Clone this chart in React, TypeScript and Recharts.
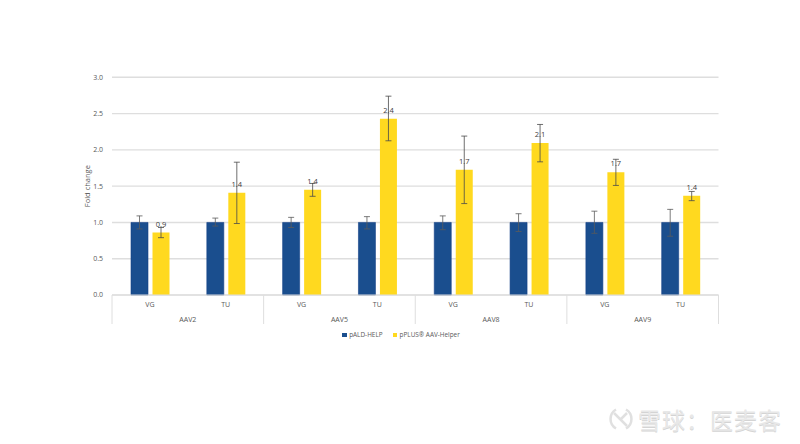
import React from "react";
import { BarChart, Bar, XAxis, YAxis, CartesianGrid, ErrorBar, LabelList, Legend } from "recharts";

const measures = ["VG", "TU", "VG", "TU", "VG", "TU", "VG", "TU"];
const groups = ["AAV2", "AAV2", "AAV5", "AAV5", "AAV8", "AAV8", "AAV9", "AAV9"];
const aldValues = [1, 1, 1, 1, 1, 1, 1, 1];
const aldErrors = [
  [0.09, 0.09], [0.05, 0.06], [0.07, 0.07], [0.09, 0.08],
  [0.1, 0.09], [0.125, 0.12], [0.15, 0.155], [0.19, 0.18],
];
const plusValues = [0.86, 1.41, 1.45, 2.43, 1.725, 2.095, 1.69, 1.367];
const plusErrors = [
  [0.07, 0.07], [0.425, 0.42], [0.09, 0.087], [0.305, 0.31],
  [0.465, 0.465], [0.26, 0.255], [0.18, 0.18], [0.067, 0.06],
];
const plusLabels = ["0.9", "1.4", "1.4", "2.4", "1.7", "2.1", "1.7", "1.4"];
const yTicks = [0, 0.5, 1, 1.5, 2, 2.5, 3];

const table = measures.map((m, i) => ({
  measure: m,
  group: groups[i],
  ald: aldValues[i],
  aldErr: aldErrors[i],
  plus: plusValues[i],
  plusErr: plusErrors[i],
  label: plusLabels[i],
}));

const FONT = "'Open Sans', sans-serif";
const TEXT = "#595959";
const LINE = "#dedede";
const WIDTH = 800;
const HEIGHT = 444;
const LEFT = 112;
const RIGHT = 81.5;
const BAND = (WIDTH - LEFT - RIGHT) / measures.length;

function GroupTick(props: any) {
  const { x, y, index, payload } = props;
  const top = y - 23;
  const bottom = y + 6;
  if (index % 2 === 0) {
    const lx = x - BAND / 2;
    return <line x1={lx} x2={lx} y1={top} y2={bottom} stroke={LINE} strokeWidth={1} />;
  }
  const rx = x + BAND / 2;
  return (
    <g>
      {index === measures.length - 1 && <line x1={rx} x2={rx} y1={top} y2={bottom} stroke={LINE} strokeWidth={1} />}
      <text x={x - BAND / 2} y={y + 3.5} textAnchor="middle" fontFamily={FONT} fontSize={7} fill={TEXT}>
        {payload.value}
      </text>
    </g>
  );
}

function LegendBox(props: any) {
  const items = props.payload || [];
  return (
    <div style={{ display: "flex", justifyContent: "center", gap: 10, fontFamily: FONT, fontSize: 6.4, color: TEXT, lineHeight: "10px", paddingLeft: 2 }}>
      {items.map((it: any) => (
        <span key={it.value} style={{ display: "inline-flex", alignItems: "center" }}>
          <span style={{ width: 4.5, height: 4.5, background: it.color, marginRight: 2.5, display: "inline-block" }} />
          {it.value}
        </span>
      ))}
    </div>
  );
}

export default function App() {
  return (
    <div style={{ position: "absolute", left: 0, top: 0, width: WIDTH, height: HEIGHT, background: "#fff", overflow: "hidden" }}>
      <BarChart
        width={WIDTH}
        height={HEIGHT}
        data={table}
        margin={{ top: 77.3, right: RIGHT, left: 80, bottom: 85 }}
        barSize={17}
        barGap={4.5}
      >
        <CartesianGrid vertical={false} stroke={LINE} strokeWidth={1.4} />
        <XAxis
          xAxisId="a"
          dataKey="measure"
          interval={0}
          height={15}
          axisLine={{ stroke: LINE }}
          tickLine={false}
          tick={{ fontFamily: FONT, fontSize: 7, fill: TEXT }}
          tickMargin={1}
        />
        <XAxis
          xAxisId="b"
          dataKey="group"
          interval={0}
          height={15}
          axisLine={false}
          tickLine={false}
          tick={<GroupTick />}
        />
        <YAxis
          width={32}
          domain={[0, 3]}
          ticks={yTicks}
          interval={0}
          axisLine={false}
          tickLine={false}
          tickFormatter={(v: number) => v.toFixed(1)}
          tick={{ fontFamily: FONT, fontSize: 7, fill: TEXT }}
          tickMargin={3}
          label={{ value: "Fold change", angle: -90, position: "insideLeft", offset: 7, style: { fontFamily: FONT, fontSize: 7.5, fill: TEXT, textAnchor: "middle" } }}
        />
        <Legend content={<LegendBox />} height={34} verticalAlign="bottom" wrapperStyle={{ left: 0, width: WIDTH, top: 330 }} />
        <Bar xAxisId="a" dataKey="ald" name="pALD-HELP" fill="#1a4e8e" stroke="#123f86" strokeWidth={0.6} isAnimationActive={false}>
          <ErrorBar dataKey="aldErr" width={3} stroke="#5a5a5a" strokeWidth={0.8} isAnimationActive={false} />
        </Bar>
        <Bar xAxisId="a" dataKey="plus" name="pPLUS® AAV-Helper" fill="#ffd91f" isAnimationActive={false}>
          <ErrorBar dataKey="plusErr" width={3} stroke="#4a4a4a" strokeWidth={0.8} isAnimationActive={false} />
          <LabelList dataKey="label" position="top" offset={6} fontFamily={FONT} fontSize={7.5} fill="#404040" />
        </Bar>
      </BarChart>
      <div style={{ position: "absolute", left: 638, top: 405, fontFamily: "'Noto Sans CJK SC'", fontSize: 23, lineHeight: "28px", color: "#e8e8e8", textShadow: "0 1px 0 #d4d4d4", whiteSpace: "pre", letterSpacing: 1 }}>
        雪球：医麦客
      </div>
      <svg style={{ position: "absolute", left: 607, top: 405 }} width={28} height={28}>
        <path d="M9 4.5 A11 11 0 0 0 9 23.5 M19 4.5 A11 11 0 0 1 19 23.5" fill="none" stroke="#e0e0e0" strokeWidth={2.5} />
        <path d="M7 8 L20 21 M20 8 L13 15" fill="none" stroke="#e0e0e0" strokeWidth={2.5} />
      </svg>
    </div>
  );
}
